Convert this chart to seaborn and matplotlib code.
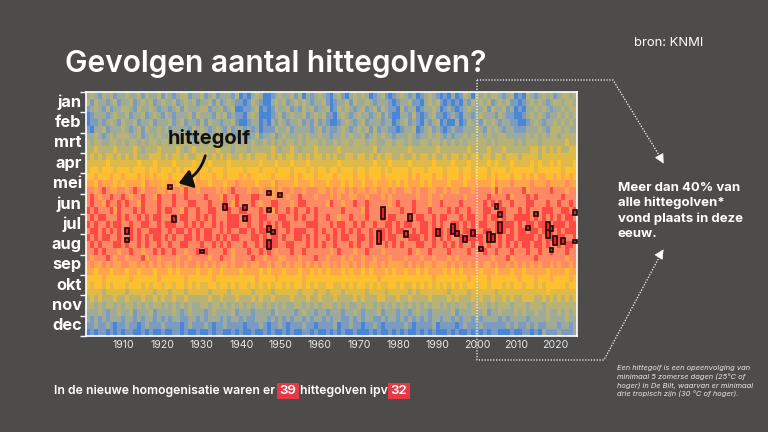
import numpy as np
import pandas as pd
import matplotlib
matplotlib.use("Agg")
import matplotlib.pyplot as plt
from matplotlib.colors import LinearSegmentedColormap
from matplotlib.patches import Rectangle, FancyArrowPatch
from matplotlib.lines import Line2D
import seaborn as sns

W, H = 768, 432
BG = "#4d4c4a"
months = ["jan", "feb", "mrt", "apr", "mei", "jun", "jul", "aug", "sep", "okt", "nov", "dec"]
year_ticks = [1910, 1920, 1930, 1940, 1950, 1960, 1970, 1980, 1990, 2000, 2010, 2020]
first_year, last_year = 1901, 2025

# warmth level (0 cold .. 9 hot): one row per third of a month, one digit per year, estimated by eye
jan = ["2321323122 3223132231 3212331223 1231222130 1023200123 2231302123 2102310232 3201231012 3212012321 0102013203 2323321230 1032123231 23323",
       "3132212312 2312323123 2231232312 2313123211 0132100232 3123232122 3101223132 2321222101 2231102323 1010102132 3231232311 0123232123 32332",
       "1232131223 3213223212 2123132223 3122312300 1123010132 2312132312 2301323212 3123132110 3122012232 0121012322 2313223120 1022323212 23233"]
feb = ["0122212322 3122312321 3212223132 2213231211 0232000123 1232231232 3110232123 2212313100 2213101231 1012102212 3222132110 0123232122 32323",
       "0112123213 2231223122 2312312213 1322122310 0122010213 2122312131 2100123212 3122212201 2312102123 0100201322 1323212211 0012321223 23232",
       "1022312223 2123132232 3122221323 2123213122 1212011132 2312222123 1211232123 2313122110 1223012312 1012112223 2132321221 1122232133 32322"]
mrt = ["2232123233 3223123232 2323232132 3223223212 2123122312 3222323223 2212232322 3123232212 2232122323 2121223232 3232233222 2232323233 23333",
       "3233223323 2332323323 3232333223 2323323232 3232232323 2332323332 3223233233 3233223323 3232233233 2323232333 3323233332 3233323333 33433",
       "3343333433 3343233343 3334323433 3334333233 3233333432 3343233343 3333433333 3334233333 3343333334 3333333433 3343334333 3334434343 43344"]
apr = ["3434344343 4343334443 4344343344 4343434334 3434443434 3443434344 3434334434 4343434433 4334344343 3434434344 3443443444 3444434444 44444",
       "4444454444 4445444544 4454444544 4544445444 4444544454 4454445444 4444544444 4445444544 4454444454 4445444544 4454544454 4445454454 54445",
       "4554555455 5455545545 5545455545 5455545555 4555455545 5545554545 5455455545 5455545455 5545554555 5455545545 5545555455 5555455555 54555"]
mei = ["5565556556 5556565655 5655565565 5565565556 5655555655 5565655565 5556555565 5655565555 5565655565 5655565565 5565655565 5656566556 56565",
       "6657666565 6666576665 6665766566 6566656676 6665666576 6665666566 6566656566 5665666565 6566656566 6656665666 6665766676 6667666766 66766",
       "7767876677 6787677766 7677687767 7776767877 7677677676 7767767776 6767667676 6766766767 7667677667 7676677767 7776867777 7867777787 77677"]
jun = ["7876778778 7677877687 7787787777 8777687787 7788777677 7677877767 7767677667 7677767677 7777677677 6777776777 7787777867 7787877777 78777",
       "7877687787 8776877787 7787778877 7877787687 7787677887 7767887777 7687767787 7877777678 7778777677 8777787777 7878787787 7788777877 87787",
       "8787778687 7787877787 8877687787 7887778778 8777877687 7878778787 7777787777 6877787777 8778777877 7787877877 7887788777 8787778887 78878"]
jul = ["7878877787 8778787887 7787887787 8787778887 7877887778 8778787787 7877677877 7877787887 7787887787 8877787887 7878878778 8887878787 87887",
       "8787787887 7877887787 8887787878 7787878887 7877878787 8877778887 7787887787 8778778878 7887788787 8778878787 8877878887 8788788878 88788",
       "7887878787 8878778887 7878878787 8877878778 8787887787 7878887787 8778787878 7787887878 8778788787 8787878887 7887888787 8878878887 87888"]
aug = ["8787887787 7878787887 8787788787 8878787887 7788787887 8778878787 7878788778 8787787887 7788878787 8787787888 8788787887 8888787887 88778",
       "7878777887 8778787787 7877887778 7787878777 8778787887 7887778787 8778777878 7787778787 8777887787 7878787787 8787787878 7887887877 87887",
       "7787877767 7877677878 7787767787 8777787677 7877878767 7787787777 7767877767 7877767777 7787677877 7787777877 7877877787 7787787787 77877"]
sep = ["7677787677 6777867767 7776776777 7677877677 7787767776 6777677787 7677767677 6776777677 7677767767 7767677777 7776777867 7777877777 77677",
       "6766767667 7667676767 6676767767 6767667677 6766776766 7676676767 6676766767 6766767666 6767676676 6676767676 7667677676 7676767767 67767",
       "6656665666 5665666566 6565666656 6566566665 6666565666 5666566565 6566656566 5656665656 6566565666 6565656666 5666566656 6566666566 66566"]
okt = ["5555655555 5655555565 5555565555 5565555555 5556555565 5555565555 5555555555 5555655555 5555555565 5555555655 5565555555 6555655565 55565",
       "5455454555 4555454554 5545545454 4554554545 5454545455 4545545454 4554454545 5454544554 5445454545 4545454554 5545554545 5455454555 55455",
       "4444344444 3444444344 4344434444 4344443444 4434444344 4444344434 4344434444 4344443444 4434344444 4434444344 4444344444 4444444544 44444"]
nov = ["3434333433 4333433434 3343343333 3433433343 3343433433 3343334334 3334333343 4333443334 3343333433 3343433343 4334334343 3444334343 43434",
       "3323233232 3323232332 3232323223 3233232323 2323323232 3223323232 3332323223 2332323232 3232323233 2323233233 3323233323 3323332333 33333",
       "2223212232 2312223122 2232123222 1232222312 2212222132 2221232212 2122212232 1222312221 2212322122 2223122232 2312232223 2322322322 32323"]
dec = ["2121212221 2212122121 2122112212 1222121221 2112221212 1212212122 1212211212 1221121221 2121212122 1221212212 1222212122 2212222322 22322",
       "1121121011 2110121112 1111012111 2101121111 0111210112 1011121101 1112011211 0112101111 1210111120 1111012111 2111111212 1121211222 12212",
       "0101101010 1100101001 0011010010 0101100101 0010010100 1010011010 0101010010 0010100101 0100101010 0010100101 0101100010 0110102111 21112"]

# heatwaves: year, first day of the year, length in days
wave_years = [1911, 1911, 1922, 1923, 1930, 1936, 1941, 1941, 1947, 1947, 1947, 1947, 1948, 1950,
              1975, 1976, 1982, 1983, 1990, 1994, 1995, 1997, 1999, 2001, 2003, 2004, 2005, 2006,
              2006, 2013, 2015, 2018, 2018, 2019, 2019, 2020, 2022, 2025, 2025]
wave_starts = [204, 218, 139, 185, 236, 167, 169, 185, 148, 174, 201, 221, 206, 151,
               208, 172, 208, 182, 205, 198, 208, 215, 207, 232, 210, 213, 167, 179,
               194, 200, 179, 194, 207, 201, 233, 216, 219, 221, 177]
wave_days = [9, 6, 5.5, 10, 5.5, 9, 8, 8.5, 6.5, 6, 8.5, 14.5, 6, 6.5,
             19, 18.5, 8.5, 10.5, 11, 14.5, 7, 10, 8.5, 5.5, 15, 11, 8, 8,
             16.5, 7, 7, 14, 11.5, 7, 7, 13.5, 8.5, 5, 6.5]

sns.set_theme(style="white")
plt.rcParams["font.family"] = ["Inter", "DejaVu Sans"]
fig = plt.figure(figsize=(W / 100, H / 100), dpi=100, facecolor=BG)


def px(x, y):
    return x / W, 1 - y / H


L, R, T, B = 86, 577, 92, 336
ax = fig.add_axes([L / W, 1 - B / H, (R - L) / W, (B - T) / H], facecolor=BG)

rows = jan + feb + mrt + apr + mei + jun + jul + aug + sep + okt + nov + dec
grid = np.array([[int(c) for c in r.replace(" ", "")] for r in rows], dtype=float)
frame = pd.DataFrame(grid, columns=[first_year + i for i in range(grid.shape[1])])
cmap = LinearSegmentedColormap.from_list(
    "warmth", ["#4a86d8", "#7c9cc0", "#a0ab98", "#b8b274", "#e0ba48", "#ffc030",
               "#ffa64c", "#ff8a66", "#ff4a44", "#ff1a1a"])
sns.heatmap(frame, ax=ax, cmap=cmap, vmin=0, vmax=9, cbar=False, xticklabels=False, yticklabels=False)

n_rows, n_cols = grid.shape
ax.set_xlim(0, n_cols)
ax.set_ylim(n_rows, 0)

ax.set_xticks([y - first_year + 0.5 for y in year_ticks])
ax.set_xticklabels(year_ticks, color="#e8e8e8", fontsize=7.6)
ax.set_yticks(np.arange(0, n_rows + 1, 3))
ax.set_yticklabels([])
ax.tick_params(axis="x", length=0, pad=3)
ax.tick_params(axis="y", length=4, width=1, color="white", left=True)
for s in ax.spines.values():
    s.set_visible(True)
    s.set_color("white")
    s.set_linewidth(1.2)
for i, m in enumerate(months):
    ax.text(-1.1, i * 3 + 1.5, m, ha="right", va="center", color="white",
            fontsize=11.8, fontweight="bold", clip_on=False)

for y, s, d in zip(wave_years, wave_starts, wave_days):
    ax.add_patch(Rectangle((y - first_year, s * n_rows / 365), 1, d * n_rows / 365, facecolor="#ff1a1a",
                           edgecolor="#111111", linewidth=1.2, zorder=5, clip_on=False))

fig.text(*px(65, 63), "Gevolgen aantal hittegolven?", color="white", fontsize=21.6, fontweight="semibold",
         ha="left", va="center")
fig.text(*px(634, 43), "bron: KNMI", color="white", fontsize=9.4, ha="left", va="center")
fig.text(*px(168, 138), "hittegolf", color="#111111", fontsize=14.5, fontweight="bold", ha="left", va="center")
fig.add_artist(FancyArrowPatch(px(206, 153), px(176, 184), transform=fig.transFigure,
                               connectionstyle="arc3,rad=-0.3", arrowstyle="-|>,head_length=5,head_width=3.5",
                               color="#111111", linewidth=2, mutation_scale=1.6))

for i, line in enumerate(["Meer dan 40% van", "alle hittegolven*", "vond plaats in deze", "eeuw."]):
    fig.text(*px(618, 188 + i * 15.2), line, color="white", fontsize=9.5, fontweight="bold", ha="left", va="center")
for i, line in enumerate(["Een hittegolf is een opeenvolging van", "minimaal 5 zomerse dagen (25°C of",
                          "hoger) in De Bilt, waarvan er minimaal", "drie tropisch zijn (30 °C of hoger)."]):
    fig.text(*px(617, 368 + i * 8.7), line, color="#e8e8e8", fontsize=5.4, style="italic", ha="left", va="center")

fig.text(*px(54, 391), "In de nieuwe homogenisatie waren er", color="white", fontsize=8.8, fontweight="semibold",
         ha="left", va="center")
fig.text(*px(299.5, 391), "hittegolven ipv", color="white", fontsize=8.8, fontweight="semibold",
         ha="left", va="center")
for x, label in [(288, "39"), (399, "32")]:
    fig.text(*px(x, 391), label, color="white", fontsize=9.6, fontweight="semibold", ha="center", va="center",
             bbox=dict(boxstyle="square,pad=0.18", facecolor="#e63946", edgecolor="none"))

dot = dict(color="white", linewidth=0.9, linestyle=(0, (1, 1.3)), transform=fig.transFigure)
for pts in [[(477, 80), (613, 80), (662, 160)], [(477, 80), (477, 360), (604, 360), (662, 252)]]:
    xs, ys = zip(*[px(*p) for p in pts])
    fig.add_artist(Line2D(xs, ys, **dot))
for a, b in [((660, 157), (665, 166)), ((660, 255), (665, 247))]:
    fig.add_artist(FancyArrowPatch(px(*a), px(*b), transform=fig.transFigure, arrowstyle="-|>,head_length=5,head_width=2.5",
                                   color="white", linewidth=0.5, mutation_scale=1.2))

fig.savefig("out.png", dpi=100, facecolor=BG)
